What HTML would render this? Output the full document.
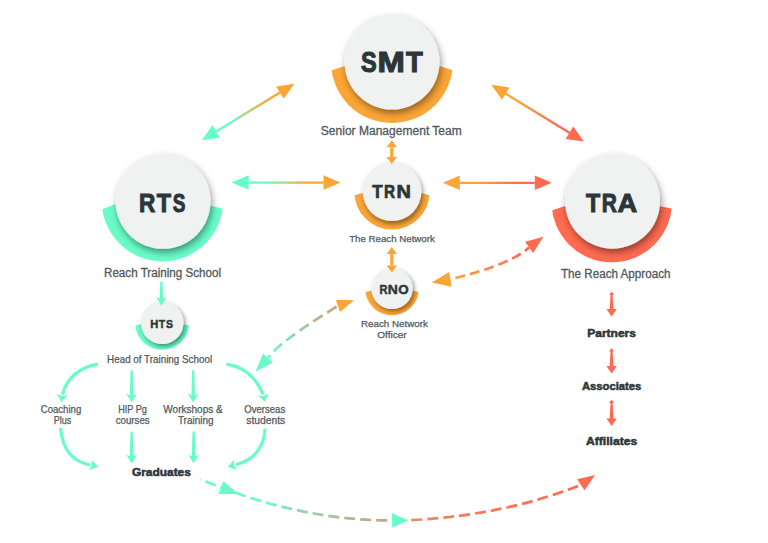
<!DOCTYPE html><html><head><meta charset="utf-8"><style>html,body{margin:0;padding:0;background:#fff;width:768px;height:543px;overflow:hidden}</style></head><body><svg width="768" height="543" viewBox="0 0 768 543" style="display:block;font-family:'Liberation Sans', sans-serif"><defs><clipPath id="c1"><polygon points="327.0,72.0 344.5,66.0 439.5,66.0 457.0,71.4 457.0,131.0 327.0,131.0"/></clipPath><clipPath id="c2"><polygon points="98.2,211.0 115.5,204.0 210.5,205.5 227.8,209.9 227.8,270.1 98.2,270.1"/></clipPath><clipPath id="c3"><polygon points="548.2,211.8 565.0,206.0 660.0,206.3 676.8,209.6 676.8,269.5 548.2,269.5"/></clipPath><clipPath id="c4"><polygon points="350.4,196.6 362.6,193.1 421.4,193.1 433.6,196.6 433.6,237.2 350.4,237.2"/></clipPath><clipPath id="c5"><polygon points="361.2,292.7 371.4,290.7 412.6,290.7 422.8,292.7 422.8,323.3 361.2,323.3"/></clipPath><clipPath id="c6"><polygon points="131.2,326.5 140.9,324.3 183.5,324.3 193.2,326.5 193.2,357.8 131.2,357.8"/></clipPath><linearGradient id="g7" gradientUnits="userSpaceOnUse" x1="201.7" y1="140.3" x2="294.4" y2="83.8"><stop offset="0" stop-color="#68fcc9"/><stop offset="0.3" stop-color="#68fcc9"/><stop offset="0.7" stop-color="#fca537"/><stop offset="1" stop-color="#fca537"/></linearGradient><linearGradient id="g8" gradientUnits="userSpaceOnUse" x1="491.3" y1="84.8" x2="583.9" y2="141.6"><stop offset="0" stop-color="#fca537"/><stop offset="0.3" stop-color="#fca537"/><stop offset="0.7" stop-color="#ff6a50"/><stop offset="1" stop-color="#ff6a50"/></linearGradient><linearGradient id="g9" gradientUnits="userSpaceOnUse" x1="231.6" y1="182.6" x2="340.5" y2="182.6"><stop offset="0" stop-color="#68fcc9"/><stop offset="0.3" stop-color="#68fcc9"/><stop offset="0.7" stop-color="#fca537"/><stop offset="1" stop-color="#fca537"/></linearGradient><linearGradient id="g10" gradientUnits="userSpaceOnUse" x1="442.8" y1="182.8" x2="551.8" y2="182.8"><stop offset="0" stop-color="#fca537"/><stop offset="0.3" stop-color="#fca537"/><stop offset="0.7" stop-color="#ff6a50"/><stop offset="1" stop-color="#ff6a50"/></linearGradient><linearGradient id="g11" gradientUnits="userSpaceOnUse" x1="391.8" y1="140.3" x2="391.8" y2="164.0"><stop offset="0" stop-color="#fca537"/><stop offset="0.3" stop-color="#fca537"/><stop offset="0.7" stop-color="#fca537"/><stop offset="1" stop-color="#fca537"/></linearGradient><linearGradient id="g12" gradientUnits="userSpaceOnUse" x1="391.8" y1="247.1" x2="391.8" y2="272.4"><stop offset="0" stop-color="#fca537"/><stop offset="0.3" stop-color="#fca537"/><stop offset="0.7" stop-color="#fca537"/><stop offset="1" stop-color="#fca537"/></linearGradient><linearGradient id="g13" gradientUnits="userSpaceOnUse" x1="268.0" y1="358.0" x2="338.0" y2="306.0"><stop offset="0" stop-color="#68fcc9"/><stop offset="0.35" stop-color="#86dcb4"/><stop offset="0.7" stop-color="#b4b690"/><stop offset="1" stop-color="#c9a27e"/></linearGradient><linearGradient id="g14" gradientUnits="userSpaceOnUse" x1="450.0" y1="279.0" x2="529.0" y2="247.0"><stop offset="0" stop-color="#fca537"/><stop offset="0.45" stop-color="#fe8a45"/><stop offset="1" stop-color="#ff6a50"/></linearGradient><linearGradient id="g15" gradientUnits="userSpaceOnUse" x1="200.0" y1="479.0" x2="391.0" y2="520.0"><stop offset="0" stop-color="#68fcc9"/><stop offset="0.35" stop-color="#68fcc9"/><stop offset="0.6" stop-color="#9ccfa4"/><stop offset="0.85" stop-color="#b4b28c"/><stop offset="1" stop-color="#c3a382"/></linearGradient><linearGradient id="g16" gradientUnits="userSpaceOnUse" x1="411.0" y1="520.0" x2="580.0" y2="485.0"><stop offset="0" stop-color="#d9906c"/><stop offset="0.3" stop-color="#f87a58"/><stop offset="1" stop-color="#ff6a50"/></linearGradient>
<filter id="sh" x="-30%" y="-30%" width="160%" height="160%"><feDropShadow dx="1.6" dy="3.5" stdDeviation="3.5" flood-color="#000" flood-opacity="0.42"/></filter>
<filter id="sh2" x="-30%" y="-30%" width="160%" height="160%"><feDropShadow dx="1.5" dy="3" stdDeviation="2.6" flood-color="#000" flood-opacity="0.45"/></filter>
<filter id="sh3" x="-40%" y="-40%" width="180%" height="180%"><feDropShadow dx="1.8" dy="2.2" stdDeviation="2" flood-color="#000" flood-opacity="0.45"/></filter>
</defs><rect width="768" height="543" fill="#fff"/><circle cx="392.0" cy="62.0" r="61.0" fill="#fca537" clip-path="url(#c1)"/>
<circle cx="392.0" cy="62.0" r="47.5" fill="#eff2f1" filter="url(#sh)"/>
<circle cx="162.5" cy="200.6" r="60.8" fill="#68fcc9" clip-path="url(#c2)"/>
<circle cx="163.0" cy="201.3" r="47.5" fill="#eff2f1" filter="url(#sh)"/>
<circle cx="611.8" cy="202.0" r="60.3" fill="#ff6a50" clip-path="url(#c3)"/>
<circle cx="612.5" cy="201.2" r="47.5" fill="#eff2f1" filter="url(#sh)"/>
<circle cx="392.0" cy="192.0" r="37.6" fill="#fca537" clip-path="url(#c4)"/>
<circle cx="392.0" cy="191.6" r="29.4" fill="#eff2f1" filter="url(#sh2)"/>
<circle cx="392.0" cy="288.5" r="26.8" fill="#fca537" clip-path="url(#c5)"/>
<circle cx="392.0" cy="288.5" r="20.6" fill="#eff2f1" filter="url(#sh3)"/>
<circle cx="162.2" cy="322.8" r="27.0" fill="#68fcc9" clip-path="url(#c6)"/>
<circle cx="162.2" cy="322.8" r="21.3" fill="#eff2f1" filter="url(#sh3)"/>
<text transform="translate(360.93,71.65) scale(0.795,1)" font-size="29.6" font-weight="bold" fill="#2c3538" stroke="#2c3538" stroke-width="1.10">S</text>
<text transform="translate(377.48,71.65) scale(1.109,1)" font-size="29.6" font-weight="bold" fill="#2c3538" stroke="#2c3538" stroke-width="1.10">M</text>
<text transform="translate(406.04,71.65) scale(0.927,1)" font-size="29.6" font-weight="bold" fill="#2c3538" stroke="#2c3538" stroke-width="1.10">T</text>
<text transform="translate(138.96,211.80) scale(0.850,1)" font-size="26.6" font-weight="bold" fill="#2c3538" stroke="#2c3538" stroke-width="1.00">R</text>
<text transform="translate(156.71,211.80) scale(0.881,1)" font-size="26.6" font-weight="bold" fill="#2c3538" stroke="#2c3538" stroke-width="1.00">T</text>
<text transform="translate(172.79,211.80) scale(0.713,1)" font-size="26.6" font-weight="bold" fill="#2c3538" stroke="#2c3538" stroke-width="1.00">S</text>
<text transform="translate(586.10,211.80) scale(0.875,1)" font-size="26.6" font-weight="bold" fill="#2c3538" stroke="#2c3538" stroke-width="1.00">T</text>
<text transform="translate(601.63,211.80) scale(0.788,1)" font-size="26.6" font-weight="bold" fill="#2c3538" stroke="#2c3538" stroke-width="1.00">R</text>
<text transform="translate(617.53,211.80) scale(1.025,1)" font-size="26.6" font-weight="bold" fill="#2c3538" stroke="#2c3538" stroke-width="1.00">A</text>
<text transform="translate(372.24,198.40) scale(0.890,1)" font-size="19.0" font-weight="bold" fill="#2c3538" stroke="#2c3538" stroke-width="0.70">T</text>
<text transform="translate(383.89,198.40) scale(0.807,1)" font-size="19.0" font-weight="bold" fill="#2c3538" stroke="#2c3538" stroke-width="0.70">R</text>
<text transform="translate(396.47,198.40) scale(1.050,1)" font-size="19.0" font-weight="bold" fill="#2c3538" stroke="#2c3538" stroke-width="0.70">N</text>
<text transform="translate(379.47,294.47) scale(0.887,1)" font-size="12.6" font-weight="bold" fill="#2c3538" stroke="#2c3538" stroke-width="0.45">R</text>
<text transform="translate(387.74,294.47) scale(1.104,1)" font-size="12.6" font-weight="bold" fill="#2c3538" stroke="#2c3538" stroke-width="0.45">N</text>
<text transform="translate(398.20,294.47) scale(1.064,1)" font-size="12.6" font-weight="bold" fill="#2c3538" stroke="#2c3538" stroke-width="0.45">O</text>
<text transform="translate(150.19,327.77) scale(0.968,1)" font-size="11.5" font-weight="bold" fill="#2c3538" stroke="#2c3538" stroke-width="0.45">H</text>
<text transform="translate(158.70,327.77) scale(0.912,1)" font-size="11.5" font-weight="bold" fill="#2c3538" stroke="#2c3538" stroke-width="0.45">T</text>
<text transform="translate(165.99,327.77) scale(0.912,1)" font-size="11.5" font-weight="bold" fill="#2c3538" stroke="#2c3538" stroke-width="0.45">S</text>
<text x="391.3" y="135.2" font-size="12.0" font-weight="normal" fill="#50595d" text-anchor="middle" textLength="141.0" lengthAdjust="spacingAndGlyphs" stroke="#50595d" stroke-width="0.30">Senior Management Team</text>
<text x="162.5" y="276.8" font-size="12.0" font-weight="normal" fill="#50595d" text-anchor="middle" textLength="117.0" lengthAdjust="spacingAndGlyphs" stroke="#50595d" stroke-width="0.30">Reach Training School</text>
<text x="615.7" y="277.5" font-size="12.0" font-weight="normal" fill="#50595d" text-anchor="middle" textLength="109.6" lengthAdjust="spacingAndGlyphs" stroke="#50595d" stroke-width="0.30">The Reach Approach</text>
<text x="392.0" y="242.3" font-size="9.6" font-weight="normal" fill="#50595d" text-anchor="middle" textLength="85.6" lengthAdjust="spacingAndGlyphs" stroke="#50595d" stroke-width="0.25">The Reach Network</text>
<text x="394.4" y="326.7" font-size="9.6" font-weight="normal" fill="#50595d" text-anchor="middle" textLength="66.8" lengthAdjust="spacingAndGlyphs" stroke="#50595d" stroke-width="0.25">Reach Network</text>
<text x="392.0" y="337.6" font-size="9.6" font-weight="normal" fill="#50595d" text-anchor="middle" textLength="29.4" lengthAdjust="spacingAndGlyphs" stroke="#50595d" stroke-width="0.25">Officer</text>
<text x="159.6" y="363.2" font-size="10.3" font-weight="normal" fill="#50595d" text-anchor="middle" textLength="105.0" lengthAdjust="spacingAndGlyphs" stroke="#50595d" stroke-width="0.25">Head of Training School</text>
<text x="61.0" y="413.3" font-size="10.3" font-weight="normal" fill="#50595d" text-anchor="middle" textLength="40.6" lengthAdjust="spacingAndGlyphs" stroke="#50595d" stroke-width="0.25">Coaching</text>
<text x="62.6" y="424.0" font-size="10.3" font-weight="normal" fill="#50595d" text-anchor="middle" textLength="17.5" lengthAdjust="spacingAndGlyphs" stroke="#50595d" stroke-width="0.25">Plus</text>
<text x="132.5" y="413.3" font-size="10.3" font-weight="normal" fill="#50595d" text-anchor="middle" textLength="28.7" lengthAdjust="spacingAndGlyphs" stroke="#50595d" stroke-width="0.25">HIP Pg</text>
<text x="132.7" y="424.0" font-size="10.3" font-weight="normal" fill="#50595d" text-anchor="middle" textLength="34.0" lengthAdjust="spacingAndGlyphs" stroke="#50595d" stroke-width="0.25">courses</text>
<text x="193.0" y="413.3" font-size="10.3" font-weight="normal" fill="#50595d" text-anchor="middle" textLength="59.3" lengthAdjust="spacingAndGlyphs" stroke="#50595d" stroke-width="0.25">Workshops &amp;</text>
<text x="195.7" y="424.0" font-size="10.3" font-weight="normal" fill="#50595d" text-anchor="middle" textLength="35.6" lengthAdjust="spacingAndGlyphs" stroke="#50595d" stroke-width="0.25">Training</text>
<text x="264.7" y="413.3" font-size="10.3" font-weight="normal" fill="#50595d" text-anchor="middle" textLength="41.0" lengthAdjust="spacingAndGlyphs" stroke="#50595d" stroke-width="0.25">Overseas</text>
<text x="265.7" y="424.0" font-size="10.3" font-weight="normal" fill="#50595d" text-anchor="middle" textLength="38.9" lengthAdjust="spacingAndGlyphs" stroke="#50595d" stroke-width="0.25">students</text>
<text x="161.4" y="475.8" font-size="10.5" font-weight="bold" fill="#2c3538" text-anchor="middle" textLength="59.0" lengthAdjust="spacingAndGlyphs" stroke="#2c3538" stroke-width="0.50">Graduates</text>
<text x="611.6" y="336.9" font-size="10.5" font-weight="bold" fill="#2c3538" text-anchor="middle" textLength="48.8" lengthAdjust="spacingAndGlyphs" stroke="#2c3538" stroke-width="0.50">Partners</text>
<text x="611.6" y="389.9" font-size="10.5" font-weight="bold" fill="#2c3538" text-anchor="middle" textLength="59.4" lengthAdjust="spacingAndGlyphs" stroke="#2c3538" stroke-width="0.50">Associates</text>
<text x="611.6" y="444.6" font-size="10.5" font-weight="bold" fill="#2c3538" text-anchor="middle" textLength="51.2" lengthAdjust="spacingAndGlyphs" stroke="#2c3538" stroke-width="0.50">Affiliates</text>
<polygon points="201.70,140.30 212.44,125.26 219.99,137.64" fill="#68fcc9"/>
<polygon points="294.40,83.80 283.66,98.84 276.11,86.46" fill="#fca537"/>
<line x1="216.2" y1="131.5" x2="279.9" y2="92.6" stroke="url(#g7)" stroke-width="2.3"/>
<polygon points="491.30,84.80 509.58,87.51 502.00,99.87" fill="#fca537"/>
<polygon points="583.90,141.60 565.62,138.89 573.20,126.53" fill="#ff6a50"/>
<line x1="505.8" y1="93.7" x2="569.4" y2="132.7" stroke="url(#g8)" stroke-width="2.3"/>
<polygon points="231.60,182.60 248.60,175.35 248.60,189.85" fill="#68fcc9"/>
<polygon points="340.50,182.60 323.50,189.85 323.50,175.35" fill="#fca537"/>
<line x1="248.6" y1="182.6" x2="323.5" y2="182.6" stroke="url(#g9)" stroke-width="2.3"/>
<polygon points="442.80,182.80 459.80,175.55 459.80,190.05" fill="#fca537"/>
<polygon points="551.80,182.80 534.80,190.05 534.80,175.55" fill="#ff6a50"/>
<line x1="459.8" y1="182.8" x2="534.8" y2="182.8" stroke="url(#g10)" stroke-width="2.3"/>
<polygon points="391.80,140.30 397.05,147.30 386.55,147.30" fill="#fca537"/>
<polygon points="391.80,164.00 386.55,157.00 397.05,157.00" fill="#fca537"/>
<line x1="391.8" y1="147.3" x2="391.8" y2="157.0" stroke="url(#g11)" stroke-width="3.2"/>
<polygon points="391.80,247.10 397.05,254.10 386.55,254.10" fill="#fca537"/>
<polygon points="391.80,272.40 386.55,265.40 397.05,265.40" fill="#fca537"/>
<line x1="391.8" y1="254.1" x2="391.8" y2="265.4" stroke="url(#g12)" stroke-width="3.2"/>
<polygon points="160.30,281.60 159.60,298.80 155.90,296.80 161.40,305.80 166.90,296.80 163.20,298.80 162.50,281.60" fill="#68fcc9"/>
<polygon points="130.50,370.20 129.80,395.60 126.10,393.60 131.60,402.60 137.10,393.60 133.40,395.60 132.70,370.20" fill="#68fcc9"/>
<polygon points="192.10,370.20 191.40,395.60 187.70,393.60 193.20,402.60 198.70,393.60 195.00,395.60 194.30,370.20" fill="#68fcc9"/>
<polygon points="130.50,431.60 129.80,456.40 126.10,454.40 131.60,463.40 137.10,454.40 133.40,456.40 132.70,431.60" fill="#68fcc9"/>
<polygon points="192.50,431.60 191.80,456.40 188.10,454.40 193.60,463.40 199.10,454.40 195.40,456.40 194.70,431.60" fill="#68fcc9"/>
<path d="M97.9,364.2 Q70.0,369.0 62.3,394.5" fill="none" stroke="#68fcc9" stroke-width="3.2" stroke-linecap="butt"/>
<polygon points="61.50,402.30 57.08,393.96 62.15,395.99 67.52,395.04" fill="#68fcc9"/>
<path d="M226.4,364.2 Q252.0,368.0 263.2,394.5" fill="none" stroke="#68fcc9" stroke-width="3.2" stroke-linecap="butt"/>
<polygon points="265.10,402.00 258.11,395.79 263.57,395.95 268.29,393.21" fill="#68fcc9"/>
<path d="M60.6,428.0 Q63.0,460.0 90.5,465.0" fill="none" stroke="#68fcc9" stroke-width="3.2" stroke-linecap="butt"/>
<polygon points="98.30,466.80 89.32,470.12 91.96,465.34 91.68,459.88" fill="#68fcc9"/>
<path d="M265.1,428.6 Q263.0,458.0 235.5,464.8" fill="none" stroke="#68fcc9" stroke-width="3.2" stroke-linecap="butt"/>
<polygon points="227.80,466.80 234.18,459.72 234.05,465.18 236.82,469.88" fill="#68fcc9"/>
<polygon points="611.60,291.60 614.10,295.10 609.10,295.10" fill="#ff6a50"/>
<polygon points="610.6,294.6 612.6,294.6 613.6,309.5 609.6,309.5" fill="#ff6a50"/>
<polygon points="611.60,316.50 606.35,309.00 616.85,309.00" fill="#ff6a50"/>
<polygon points="611.60,348.00 614.10,351.50 609.10,351.50" fill="#ff6a50"/>
<polygon points="610.6,351.0 612.6,351.0 613.6,366.6 609.6,366.6" fill="#ff6a50"/>
<polygon points="611.60,373.60 606.35,366.10 616.85,366.10" fill="#ff6a50"/>
<polygon points="611.60,399.40 614.10,402.90 609.10,402.90" fill="#ff6a50"/>
<polygon points="610.6,402.4 612.6,402.4 613.6,419.0 609.6,419.0" fill="#ff6a50"/>
<polygon points="611.60,426.00 606.35,418.50 616.85,418.50" fill="#ff6a50"/>
<path d="M337.9,305.8 Q276.5,343.8 268,358.1" fill="none" stroke="url(#g13)" stroke-width="2.7" stroke-dasharray="11 5.5" stroke-dashoffset="-1.5"/>
<polygon points="354.10,300.20 340.01,311.90 335.79,299.70" fill="#fca537"/>
<polygon points="255.50,371.40 263.15,353.55 272.85,362.65" fill="#68fcc9"/>
<path d="M450.4,279.3 Q512.1,264 529.1,247.3" fill="none" stroke="url(#g14)" stroke-width="2.7" stroke-dasharray="10 5" stroke-dashoffset="-5.0"/>
<polygon points="431.80,282.50 449.13,271.91 451.67,286.69" fill="#fca537"/>
<polygon points="543.50,236.80 533.17,252.88 525.03,241.72" fill="#ff6a50"/>
<path d="M200.4,479.1 Q295.8,520.1 391,520.5" fill="none" stroke="url(#g15)" stroke-width="2.7" stroke-dasharray="11 5" stroke-dashoffset="-5.5"/>
<polygon points="238.20,494.10 218.47,494.06 223.33,481.14" fill="#68fcc9"/>
<polygon points="408.50,520.20 392.23,527.80 391.97,513.20" fill="#68fcc9"/>
<path d="M411.2,520.2 Q505.7,515.1 580.8,484.8" fill="none" stroke="url(#g16)" stroke-width="2.7" stroke-dasharray="11 5" stroke-dashoffset="0.0"/>
<polygon points="595.10,475.00 584.57,490.33 577.03,479.37" fill="#ff6a50"/></svg></body></html>
